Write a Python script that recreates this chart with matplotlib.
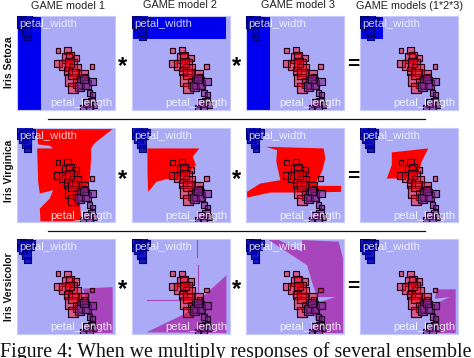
import matplotlib
matplotlib.use("Agg")
import matplotlib.pyplot as plt
from matplotlib.patches import Polygon, Rectangle

W, H = 474, 358
BG = "#AAAAF6"; BLUE = "#0000EE"; RED = "#FF0000"; PURPLE = "#A945BC"

column_titles = ["GAME model 1", "GAME model 2", "GAME model 3", "GAME models (1*2*3)"]
title_x = [68, 180, 298, 410]
title_y = [6, 5, 5, 6]
row_labels = ["Iris Setoza", "Iris Virginica", "Iris Versicolor"]
row_label_y = [62, 171, 287]
operator_y = [64, 177, 287]

col_left = [17.3, 132.3, 245.7, 360.3]
col_right = [115, 229.7, 344, 458]
row_top = [16, 127.7, 239]
row_bottom = [110, 222.3, 334]

# Scatter, panel units (295 wide, 283 tall): x, y, side
setosa = [(13,12,22),(33,7,18),(23,17,24),(38,22,18),(31,62,16),(18,32,22),(28,47,22),(10,25,16),(45,12,14)]
versicolor = [(123,104,12),(151,104,16),(123,142,18),(150,127,24),(158,122,20),(178,127,16),
              (143,147,26),(163,147,30),(173,162,30),(153,167,20),(163,192,30),(198,177,26),
              (183,202,24),(168,217,24),(203,182,14),(225,152,11),(158,140,22),(170,175,26)]
virginica = [(198,202,30),(188,212,24),(208,207,22),(226,197,18),(218,232,14),(228,237,12),
             (223,257,18),(208,262,18),(233,267,14),(218,277,16),(198,277,14),(200,190,20)]

# Response regions, panel units
setosa_rects = [(0,0,73,283),(0,0,285,70),(0,0,73,283),(0,0,70,70)]
virginica_polys = [
    [(58,4),(288,4),(258,27),(233,47),(223,62),(223,92),(218,162),(188,202),(193,280),(70,280),
     (68,242),(98,212),(108,187),(68,197),(63,162),(60,62),(108,62),(98,54),(63,50)],
    [(46,62),(203,62),(183,87),(193,112),(163,142),(143,152),(103,154),(73,162),(48,192),(46,132)],
    [(59,57),(234,62),(239,92),(229,132),(214,157),(214,174),(286,174),(286,192),(174,194),
     (74,194),(4,209),(4,192),(44,167),(104,157),(92,102),(94,67)],
    [(95,74),(205,62),(185,102),(180,122),(165,152),(80,152),(95,112)],
]
versicolor_polys = [
    [(198,148),(288,143),(288,280),(218,280),(213,198)],
    [(43,278),(153,226),(203,198),(213,173),(285,108),(285,280)],
    [(69,3),(99,3),(169,38),(169,3),(279,8),(292,58),(292,280),(224,280),(202,218),(214,190),
     (269,173),(214,173),(199,128),(184,78)],
    [(230,150),(288,150),(288,280),(230,280),(215,198),(270,173),(225,178)],
]
versicolor_m2_lines = [((196,196),(3,53)),((200,200),(78,158)),((46,183),(183,183))]

separator_y = [118.5, 230.5]
separator_x = (48, 425)
caption = "Figure 4: When we multiply responses of several ensemble"

fig = plt.figure(figsize=(W/100, H/100), dpi=100, facecolor="white")
SANS = "Liberation Sans"; SERIF = "Liberation Serif"

def add_scatter(ax):
    for pts, face, edge, lw in [
        (setosa, (0, 0, .75, .85), "#000070", 0.8),
        (versicolor, (1, 0, .05, .45), "#2A0010", 0.85),
        (virginica, (.50, .15, .55, .6), "#1A0520", 0.85),
    ]:
        ax.scatter([p[0] for p in pts], [p[1] for p in pts],
                   s=[(p[2]*.29)**2 for p in pts], marker="s",
                   facecolors=[face], edgecolors=edge, linewidths=lw, zorder=3)

for r in range(3):
    for c in range(4):
        ax = fig.add_axes([col_left[c]/W, 1-row_bottom[r]/H,
                           (col_right[c]-col_left[c])/W, (row_bottom[r]-row_top[r])/H])
        ax.set_xlim(0, 295); ax.set_ylim(283, 0)
        ax.set_facecolor(BG); ax.set_xticks([]); ax.set_yticks([])
        for s in ax.spines.values():
            s.set_color("#C9C9FB"); s.set_linewidth(0.8)
        if r == 0:
            x, y, w, h = setosa_rects[c]
            ax.add_patch(Rectangle((x, y), w, h, fc=BLUE, ec="none", zorder=1))
        elif r == 1:
            ax.add_patch(Polygon(virginica_polys[c], fc=RED, ec="none", zorder=1))
        else:
            ax.add_patch(Polygon(versicolor_polys[c], fc=PURPLE, ec="none", zorder=1))
            if c == 1:
                for xs, ys in versicolor_m2_lines:
                    ax.plot(xs, ys, color=PURPLE, lw=0.8, zorder=1)
        add_scatter(ax)
        ax.text(7, 24, "petal_width", color="white", alpha=.8, fontsize=8.2, family=SANS,
                va="center", ha="left", zorder=4)
        ax.text(288, 263, "petal_length", color="white", alpha=.85, fontsize=8.2, family=SANS,
                va="center", ha="right", zorder=4)

for t, x, y in zip(column_titles, title_x, title_y):
    fig.text(x/W, 1-y/H, t, ha="center", va="center", fontsize=7.8, family=SANS, color="#222222")
for t, y in zip(row_labels, row_label_y):
    fig.text(9/W, 1-y/H, t, rotation=90, ha="center", va="center", fontsize=7.4,
             family=SANS, weight="bold", color="#111111")
for y in operator_y:
    for x in (123, 237):
        fig.text(x/W, 1-(y+3)/H, "*", ha="center", va="center", fontsize=17,
                 family=SANS, weight="bold", color="black")
    fig.text(353/W, 1-y/H, "=", ha="center", va="center", fontsize=15,
             family=SANS, weight="bold", color="black")
for y in separator_y:
    fig.add_artist(plt.Line2D([separator_x[0]/W, separator_x[1]/W], [1-y/H, 1-y/H],
                              color="#111111", lw=0.9))
fig.text(0.5/W, 1-357.5/H, caption, ha="left", va="baseline", fontsize=14.3, family=SERIF, color="#111111")
fig.savefig("out.png", dpi=100)
